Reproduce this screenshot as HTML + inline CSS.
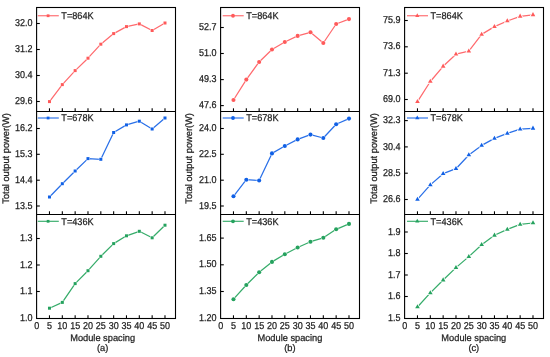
<!DOCTYPE html>
<html><head><meta charset="utf-8"><title>Total output power vs module spacing</title>
<style>
html,body{margin:0;padding:0;background:#fff;}
svg{display:block;}
.g{filter:blur(0.15px);}
.t{filter:blur(0.3px);}
text{text-rendering:geometricPrecision;font-family:"Liberation Sans", Arial, sans-serif;fill:#222;stroke:#222;stroke-width:0.25px;}
</style></head>
<body>
<svg width="550" height="357" viewBox="0 0 550 357">
<rect width="550" height="357" fill="#fff"/>
<g class="g">
<polyline points="49.48,101.60 62.32,84.60 75.15,70.60 87.98,58.20 100.82,44.20 113.65,33.60 126.48,26.60 139.32,23.90 152.15,30.50 164.99,23.00" fill="none" stroke="#ff6a6e" stroke-width="1.25" stroke-linejoin="round"/>
<rect x="47.98" y="100.10" width="3.00" height="3.00" fill="#fff" stroke="#fff" stroke-width="0.7" stroke-linejoin="round"/>
<rect x="47.98" y="100.10" width="3.00" height="3.00" fill="#ff5a5a"/>
<rect x="60.82" y="83.10" width="3.00" height="3.00" fill="#fff" stroke="#fff" stroke-width="0.7" stroke-linejoin="round"/>
<rect x="60.82" y="83.10" width="3.00" height="3.00" fill="#ff5a5a"/>
<rect x="73.65" y="69.10" width="3.00" height="3.00" fill="#fff" stroke="#fff" stroke-width="0.7" stroke-linejoin="round"/>
<rect x="73.65" y="69.10" width="3.00" height="3.00" fill="#ff5a5a"/>
<rect x="86.48" y="56.70" width="3.00" height="3.00" fill="#fff" stroke="#fff" stroke-width="0.7" stroke-linejoin="round"/>
<rect x="86.48" y="56.70" width="3.00" height="3.00" fill="#ff5a5a"/>
<rect x="99.32" y="42.70" width="3.00" height="3.00" fill="#fff" stroke="#fff" stroke-width="0.7" stroke-linejoin="round"/>
<rect x="99.32" y="42.70" width="3.00" height="3.00" fill="#ff5a5a"/>
<rect x="112.15" y="32.10" width="3.00" height="3.00" fill="#fff" stroke="#fff" stroke-width="0.7" stroke-linejoin="round"/>
<rect x="112.15" y="32.10" width="3.00" height="3.00" fill="#ff5a5a"/>
<rect x="124.98" y="25.10" width="3.00" height="3.00" fill="#fff" stroke="#fff" stroke-width="0.7" stroke-linejoin="round"/>
<rect x="124.98" y="25.10" width="3.00" height="3.00" fill="#ff5a5a"/>
<rect x="137.82" y="22.40" width="3.00" height="3.00" fill="#fff" stroke="#fff" stroke-width="0.7" stroke-linejoin="round"/>
<rect x="137.82" y="22.40" width="3.00" height="3.00" fill="#ff5a5a"/>
<rect x="150.65" y="29.00" width="3.00" height="3.00" fill="#fff" stroke="#fff" stroke-width="0.7" stroke-linejoin="round"/>
<rect x="150.65" y="29.00" width="3.00" height="3.00" fill="#ff5a5a"/>
<rect x="163.49" y="21.50" width="3.00" height="3.00" fill="#fff" stroke="#fff" stroke-width="0.7" stroke-linejoin="round"/>
<rect x="163.49" y="21.50" width="3.00" height="3.00" fill="#ff5a5a"/>
<line x1="37.80" y1="15.75" x2="58.80" y2="15.75" stroke="#ff6a6e" stroke-width="1.15"/>
<rect x="46.72" y="14.37" width="2.76" height="2.76" fill="#ff5a5a"/>
<line x1="49.48" y1="111.50" x2="49.48" y2="108.30" stroke="#000" stroke-width="1.1"/>
<line x1="62.32" y1="111.50" x2="62.32" y2="108.30" stroke="#000" stroke-width="1.1"/>
<line x1="75.15" y1="111.50" x2="75.15" y2="108.30" stroke="#000" stroke-width="1.1"/>
<line x1="87.98" y1="111.50" x2="87.98" y2="108.30" stroke="#000" stroke-width="1.1"/>
<line x1="100.82" y1="111.50" x2="100.82" y2="108.30" stroke="#000" stroke-width="1.1"/>
<line x1="113.65" y1="111.50" x2="113.65" y2="108.30" stroke="#000" stroke-width="1.1"/>
<line x1="126.48" y1="111.50" x2="126.48" y2="108.30" stroke="#000" stroke-width="1.1"/>
<line x1="139.32" y1="111.50" x2="139.32" y2="108.30" stroke="#000" stroke-width="1.1"/>
<line x1="152.15" y1="111.50" x2="152.15" y2="108.30" stroke="#000" stroke-width="1.1"/>
<line x1="164.99" y1="111.50" x2="164.99" y2="108.30" stroke="#000" stroke-width="1.1"/>
<line x1="36.60" y1="23.50" x2="39.80" y2="23.50" stroke="#000" stroke-width="1.1"/>
<line x1="36.60" y1="49.50" x2="39.80" y2="49.50" stroke="#000" stroke-width="1.1"/>
<line x1="36.60" y1="75.50" x2="39.80" y2="75.50" stroke="#000" stroke-width="1.1"/>
<line x1="36.60" y1="101.50" x2="39.80" y2="101.50" stroke="#000" stroke-width="1.1"/>
<polyline points="49.48,197.00 62.32,183.70 75.15,171.00 87.98,158.60 100.82,159.30 113.65,132.50 126.48,124.90 139.32,121.20 152.15,129.00 164.99,118.00" fill="none" stroke="#2a70e8" stroke-width="1.25" stroke-linejoin="round"/>
<rect x="47.98" y="195.50" width="3.00" height="3.00" fill="#fff" stroke="#fff" stroke-width="0.7" stroke-linejoin="round"/>
<rect x="47.98" y="195.50" width="3.00" height="3.00" fill="#1060e6"/>
<rect x="60.82" y="182.20" width="3.00" height="3.00" fill="#fff" stroke="#fff" stroke-width="0.7" stroke-linejoin="round"/>
<rect x="60.82" y="182.20" width="3.00" height="3.00" fill="#1060e6"/>
<rect x="73.65" y="169.50" width="3.00" height="3.00" fill="#fff" stroke="#fff" stroke-width="0.7" stroke-linejoin="round"/>
<rect x="73.65" y="169.50" width="3.00" height="3.00" fill="#1060e6"/>
<rect x="86.48" y="157.10" width="3.00" height="3.00" fill="#fff" stroke="#fff" stroke-width="0.7" stroke-linejoin="round"/>
<rect x="86.48" y="157.10" width="3.00" height="3.00" fill="#1060e6"/>
<rect x="99.32" y="157.80" width="3.00" height="3.00" fill="#fff" stroke="#fff" stroke-width="0.7" stroke-linejoin="round"/>
<rect x="99.32" y="157.80" width="3.00" height="3.00" fill="#1060e6"/>
<rect x="112.15" y="131.00" width="3.00" height="3.00" fill="#fff" stroke="#fff" stroke-width="0.7" stroke-linejoin="round"/>
<rect x="112.15" y="131.00" width="3.00" height="3.00" fill="#1060e6"/>
<rect x="124.98" y="123.40" width="3.00" height="3.00" fill="#fff" stroke="#fff" stroke-width="0.7" stroke-linejoin="round"/>
<rect x="124.98" y="123.40" width="3.00" height="3.00" fill="#1060e6"/>
<rect x="137.82" y="119.70" width="3.00" height="3.00" fill="#fff" stroke="#fff" stroke-width="0.7" stroke-linejoin="round"/>
<rect x="137.82" y="119.70" width="3.00" height="3.00" fill="#1060e6"/>
<rect x="150.65" y="127.50" width="3.00" height="3.00" fill="#fff" stroke="#fff" stroke-width="0.7" stroke-linejoin="round"/>
<rect x="150.65" y="127.50" width="3.00" height="3.00" fill="#1060e6"/>
<rect x="163.49" y="116.50" width="3.00" height="3.00" fill="#fff" stroke="#fff" stroke-width="0.7" stroke-linejoin="round"/>
<rect x="163.49" y="116.50" width="3.00" height="3.00" fill="#1060e6"/>
<line x1="37.80" y1="118.00" x2="58.80" y2="118.00" stroke="#2a70e8" stroke-width="1.15"/>
<rect x="46.72" y="116.62" width="2.76" height="2.76" fill="#1060e6"/>
<line x1="49.48" y1="214.50" x2="49.48" y2="211.30" stroke="#000" stroke-width="1.1"/>
<line x1="62.32" y1="214.50" x2="62.32" y2="211.30" stroke="#000" stroke-width="1.1"/>
<line x1="75.15" y1="214.50" x2="75.15" y2="211.30" stroke="#000" stroke-width="1.1"/>
<line x1="87.98" y1="214.50" x2="87.98" y2="211.30" stroke="#000" stroke-width="1.1"/>
<line x1="100.82" y1="214.50" x2="100.82" y2="211.30" stroke="#000" stroke-width="1.1"/>
<line x1="113.65" y1="214.50" x2="113.65" y2="211.30" stroke="#000" stroke-width="1.1"/>
<line x1="126.48" y1="214.50" x2="126.48" y2="211.30" stroke="#000" stroke-width="1.1"/>
<line x1="139.32" y1="214.50" x2="139.32" y2="211.30" stroke="#000" stroke-width="1.1"/>
<line x1="152.15" y1="214.50" x2="152.15" y2="211.30" stroke="#000" stroke-width="1.1"/>
<line x1="164.99" y1="214.50" x2="164.99" y2="211.30" stroke="#000" stroke-width="1.1"/>
<line x1="36.60" y1="128.50" x2="39.80" y2="128.50" stroke="#000" stroke-width="1.1"/>
<line x1="36.60" y1="154.30" x2="39.80" y2="154.30" stroke="#000" stroke-width="1.1"/>
<line x1="36.60" y1="180.20" x2="39.80" y2="180.20" stroke="#000" stroke-width="1.1"/>
<line x1="36.60" y1="206.00" x2="39.80" y2="206.00" stroke="#000" stroke-width="1.1"/>
<polyline points="49.48,308.20 62.32,302.40 75.15,283.60 87.98,270.70 100.82,256.30 113.65,243.60 126.48,235.80 139.32,231.30 152.15,237.80 164.99,225.20" fill="none" stroke="#36ac6a" stroke-width="1.25" stroke-linejoin="round"/>
<rect x="47.98" y="306.70" width="3.00" height="3.00" fill="#fff" stroke="#fff" stroke-width="0.7" stroke-linejoin="round"/>
<rect x="47.98" y="306.70" width="3.00" height="3.00" fill="#25a25e"/>
<rect x="60.82" y="300.90" width="3.00" height="3.00" fill="#fff" stroke="#fff" stroke-width="0.7" stroke-linejoin="round"/>
<rect x="60.82" y="300.90" width="3.00" height="3.00" fill="#25a25e"/>
<rect x="73.65" y="282.10" width="3.00" height="3.00" fill="#fff" stroke="#fff" stroke-width="0.7" stroke-linejoin="round"/>
<rect x="73.65" y="282.10" width="3.00" height="3.00" fill="#25a25e"/>
<rect x="86.48" y="269.20" width="3.00" height="3.00" fill="#fff" stroke="#fff" stroke-width="0.7" stroke-linejoin="round"/>
<rect x="86.48" y="269.20" width="3.00" height="3.00" fill="#25a25e"/>
<rect x="99.32" y="254.80" width="3.00" height="3.00" fill="#fff" stroke="#fff" stroke-width="0.7" stroke-linejoin="round"/>
<rect x="99.32" y="254.80" width="3.00" height="3.00" fill="#25a25e"/>
<rect x="112.15" y="242.10" width="3.00" height="3.00" fill="#fff" stroke="#fff" stroke-width="0.7" stroke-linejoin="round"/>
<rect x="112.15" y="242.10" width="3.00" height="3.00" fill="#25a25e"/>
<rect x="124.98" y="234.30" width="3.00" height="3.00" fill="#fff" stroke="#fff" stroke-width="0.7" stroke-linejoin="round"/>
<rect x="124.98" y="234.30" width="3.00" height="3.00" fill="#25a25e"/>
<rect x="137.82" y="229.80" width="3.00" height="3.00" fill="#fff" stroke="#fff" stroke-width="0.7" stroke-linejoin="round"/>
<rect x="137.82" y="229.80" width="3.00" height="3.00" fill="#25a25e"/>
<rect x="150.65" y="236.30" width="3.00" height="3.00" fill="#fff" stroke="#fff" stroke-width="0.7" stroke-linejoin="round"/>
<rect x="150.65" y="236.30" width="3.00" height="3.00" fill="#25a25e"/>
<rect x="163.49" y="223.70" width="3.00" height="3.00" fill="#fff" stroke="#fff" stroke-width="0.7" stroke-linejoin="round"/>
<rect x="163.49" y="223.70" width="3.00" height="3.00" fill="#25a25e"/>
<line x1="37.80" y1="221.30" x2="58.80" y2="221.30" stroke="#36ac6a" stroke-width="1.15"/>
<rect x="46.72" y="219.92" width="2.76" height="2.76" fill="#25a25e"/>
<line x1="49.48" y1="318.50" x2="49.48" y2="315.30" stroke="#000" stroke-width="1.1"/>
<line x1="62.32" y1="318.50" x2="62.32" y2="315.30" stroke="#000" stroke-width="1.1"/>
<line x1="75.15" y1="318.50" x2="75.15" y2="315.30" stroke="#000" stroke-width="1.1"/>
<line x1="87.98" y1="318.50" x2="87.98" y2="315.30" stroke="#000" stroke-width="1.1"/>
<line x1="100.82" y1="318.50" x2="100.82" y2="315.30" stroke="#000" stroke-width="1.1"/>
<line x1="113.65" y1="318.50" x2="113.65" y2="315.30" stroke="#000" stroke-width="1.1"/>
<line x1="126.48" y1="318.50" x2="126.48" y2="315.30" stroke="#000" stroke-width="1.1"/>
<line x1="139.32" y1="318.50" x2="139.32" y2="315.30" stroke="#000" stroke-width="1.1"/>
<line x1="152.15" y1="318.50" x2="152.15" y2="315.30" stroke="#000" stroke-width="1.1"/>
<line x1="164.99" y1="318.50" x2="164.99" y2="315.30" stroke="#000" stroke-width="1.1"/>
<line x1="36.60" y1="238.50" x2="39.80" y2="238.50" stroke="#000" stroke-width="1.1"/>
<line x1="36.60" y1="265.00" x2="39.80" y2="265.00" stroke="#000" stroke-width="1.1"/>
<line x1="36.60" y1="291.50" x2="39.80" y2="291.50" stroke="#000" stroke-width="1.1"/>
<rect x="36.60" y="7.50" width="138.90" height="311.00" fill="none" stroke="#000" stroke-width="1.1"/>
<line x1="36.60" y1="111.50" x2="175.50" y2="111.50" stroke="#000" stroke-width="1.1"/>
<line x1="36.60" y1="214.50" x2="175.50" y2="214.50" stroke="#000" stroke-width="1.1"/>
<polyline points="233.48,100.00 246.32,79.60 259.15,61.95 271.98,49.50 284.82,42.00 297.65,35.90 310.48,32.30 323.32,43.00 336.15,24.00 348.99,19.10" fill="none" stroke="#ff6a6e" stroke-width="1.25" stroke-linejoin="round"/>
<circle cx="233.48" cy="100.00" r="2.05" fill="#fff" stroke="#fff" stroke-width="0.7" stroke-linejoin="round"/>
<circle cx="233.48" cy="100.00" r="2.05" fill="#ff5a5a"/>
<circle cx="246.32" cy="79.60" r="2.05" fill="#fff" stroke="#fff" stroke-width="0.7" stroke-linejoin="round"/>
<circle cx="246.32" cy="79.60" r="2.05" fill="#ff5a5a"/>
<circle cx="259.15" cy="61.95" r="2.05" fill="#fff" stroke="#fff" stroke-width="0.7" stroke-linejoin="round"/>
<circle cx="259.15" cy="61.95" r="2.05" fill="#ff5a5a"/>
<circle cx="271.98" cy="49.50" r="2.05" fill="#fff" stroke="#fff" stroke-width="0.7" stroke-linejoin="round"/>
<circle cx="271.98" cy="49.50" r="2.05" fill="#ff5a5a"/>
<circle cx="284.82" cy="42.00" r="2.05" fill="#fff" stroke="#fff" stroke-width="0.7" stroke-linejoin="round"/>
<circle cx="284.82" cy="42.00" r="2.05" fill="#ff5a5a"/>
<circle cx="297.65" cy="35.90" r="2.05" fill="#fff" stroke="#fff" stroke-width="0.7" stroke-linejoin="round"/>
<circle cx="297.65" cy="35.90" r="2.05" fill="#ff5a5a"/>
<circle cx="310.48" cy="32.30" r="2.05" fill="#fff" stroke="#fff" stroke-width="0.7" stroke-linejoin="round"/>
<circle cx="310.48" cy="32.30" r="2.05" fill="#ff5a5a"/>
<circle cx="323.32" cy="43.00" r="2.05" fill="#fff" stroke="#fff" stroke-width="0.7" stroke-linejoin="round"/>
<circle cx="323.32" cy="43.00" r="2.05" fill="#ff5a5a"/>
<circle cx="336.15" cy="24.00" r="2.05" fill="#fff" stroke="#fff" stroke-width="0.7" stroke-linejoin="round"/>
<circle cx="336.15" cy="24.00" r="2.05" fill="#ff5a5a"/>
<circle cx="348.99" cy="19.10" r="2.05" fill="#fff" stroke="#fff" stroke-width="0.7" stroke-linejoin="round"/>
<circle cx="348.99" cy="19.10" r="2.05" fill="#ff5a5a"/>
<line x1="222.70" y1="15.75" x2="243.70" y2="15.75" stroke="#ff6a6e" stroke-width="1.15"/>
<circle cx="233.00" cy="15.75" r="1.89" fill="#ff5a5a"/>
<line x1="233.48" y1="111.50" x2="233.48" y2="108.30" stroke="#000" stroke-width="1.1"/>
<line x1="246.32" y1="111.50" x2="246.32" y2="108.30" stroke="#000" stroke-width="1.1"/>
<line x1="259.15" y1="111.50" x2="259.15" y2="108.30" stroke="#000" stroke-width="1.1"/>
<line x1="271.98" y1="111.50" x2="271.98" y2="108.30" stroke="#000" stroke-width="1.1"/>
<line x1="284.82" y1="111.50" x2="284.82" y2="108.30" stroke="#000" stroke-width="1.1"/>
<line x1="297.65" y1="111.50" x2="297.65" y2="108.30" stroke="#000" stroke-width="1.1"/>
<line x1="310.48" y1="111.50" x2="310.48" y2="108.30" stroke="#000" stroke-width="1.1"/>
<line x1="323.32" y1="111.50" x2="323.32" y2="108.30" stroke="#000" stroke-width="1.1"/>
<line x1="336.15" y1="111.50" x2="336.15" y2="108.30" stroke="#000" stroke-width="1.1"/>
<line x1="348.99" y1="111.50" x2="348.99" y2="108.30" stroke="#000" stroke-width="1.1"/>
<line x1="220.60" y1="27.50" x2="223.80" y2="27.50" stroke="#000" stroke-width="1.1"/>
<line x1="220.60" y1="53.50" x2="223.80" y2="53.50" stroke="#000" stroke-width="1.1"/>
<line x1="220.60" y1="79.60" x2="223.80" y2="79.60" stroke="#000" stroke-width="1.1"/>
<line x1="220.60" y1="105.60" x2="223.80" y2="105.60" stroke="#000" stroke-width="1.1"/>
<polyline points="233.48,196.30 246.32,179.70 259.15,180.50 271.98,153.40 284.82,146.00 297.65,139.40 310.48,134.60 323.32,138.00 336.15,124.20 348.99,118.60" fill="none" stroke="#2a70e8" stroke-width="1.25" stroke-linejoin="round"/>
<circle cx="233.48" cy="196.30" r="2.05" fill="#fff" stroke="#fff" stroke-width="0.7" stroke-linejoin="round"/>
<circle cx="233.48" cy="196.30" r="2.05" fill="#1060e6"/>
<circle cx="246.32" cy="179.70" r="2.05" fill="#fff" stroke="#fff" stroke-width="0.7" stroke-linejoin="round"/>
<circle cx="246.32" cy="179.70" r="2.05" fill="#1060e6"/>
<circle cx="259.15" cy="180.50" r="2.05" fill="#fff" stroke="#fff" stroke-width="0.7" stroke-linejoin="round"/>
<circle cx="259.15" cy="180.50" r="2.05" fill="#1060e6"/>
<circle cx="271.98" cy="153.40" r="2.05" fill="#fff" stroke="#fff" stroke-width="0.7" stroke-linejoin="round"/>
<circle cx="271.98" cy="153.40" r="2.05" fill="#1060e6"/>
<circle cx="284.82" cy="146.00" r="2.05" fill="#fff" stroke="#fff" stroke-width="0.7" stroke-linejoin="round"/>
<circle cx="284.82" cy="146.00" r="2.05" fill="#1060e6"/>
<circle cx="297.65" cy="139.40" r="2.05" fill="#fff" stroke="#fff" stroke-width="0.7" stroke-linejoin="round"/>
<circle cx="297.65" cy="139.40" r="2.05" fill="#1060e6"/>
<circle cx="310.48" cy="134.60" r="2.05" fill="#fff" stroke="#fff" stroke-width="0.7" stroke-linejoin="round"/>
<circle cx="310.48" cy="134.60" r="2.05" fill="#1060e6"/>
<circle cx="323.32" cy="138.00" r="2.05" fill="#fff" stroke="#fff" stroke-width="0.7" stroke-linejoin="round"/>
<circle cx="323.32" cy="138.00" r="2.05" fill="#1060e6"/>
<circle cx="336.15" cy="124.20" r="2.05" fill="#fff" stroke="#fff" stroke-width="0.7" stroke-linejoin="round"/>
<circle cx="336.15" cy="124.20" r="2.05" fill="#1060e6"/>
<circle cx="348.99" cy="118.60" r="2.05" fill="#fff" stroke="#fff" stroke-width="0.7" stroke-linejoin="round"/>
<circle cx="348.99" cy="118.60" r="2.05" fill="#1060e6"/>
<line x1="222.70" y1="118.00" x2="243.70" y2="118.00" stroke="#2a70e8" stroke-width="1.15"/>
<circle cx="233.00" cy="118.00" r="1.89" fill="#1060e6"/>
<line x1="233.48" y1="214.50" x2="233.48" y2="211.30" stroke="#000" stroke-width="1.1"/>
<line x1="246.32" y1="214.50" x2="246.32" y2="211.30" stroke="#000" stroke-width="1.1"/>
<line x1="259.15" y1="214.50" x2="259.15" y2="211.30" stroke="#000" stroke-width="1.1"/>
<line x1="271.98" y1="214.50" x2="271.98" y2="211.30" stroke="#000" stroke-width="1.1"/>
<line x1="284.82" y1="214.50" x2="284.82" y2="211.30" stroke="#000" stroke-width="1.1"/>
<line x1="297.65" y1="214.50" x2="297.65" y2="211.30" stroke="#000" stroke-width="1.1"/>
<line x1="310.48" y1="214.50" x2="310.48" y2="211.30" stroke="#000" stroke-width="1.1"/>
<line x1="323.32" y1="214.50" x2="323.32" y2="211.30" stroke="#000" stroke-width="1.1"/>
<line x1="336.15" y1="214.50" x2="336.15" y2="211.30" stroke="#000" stroke-width="1.1"/>
<line x1="348.99" y1="214.50" x2="348.99" y2="211.30" stroke="#000" stroke-width="1.1"/>
<line x1="220.60" y1="128.50" x2="223.80" y2="128.50" stroke="#000" stroke-width="1.1"/>
<line x1="220.60" y1="154.30" x2="223.80" y2="154.30" stroke="#000" stroke-width="1.1"/>
<line x1="220.60" y1="180.20" x2="223.80" y2="180.20" stroke="#000" stroke-width="1.1"/>
<line x1="220.60" y1="206.00" x2="223.80" y2="206.00" stroke="#000" stroke-width="1.1"/>
<polyline points="233.48,299.20 246.32,285.00 259.15,272.20 271.98,261.90 284.82,254.20 297.65,247.50 310.48,241.70 323.32,237.80 336.15,229.30 348.99,223.90" fill="none" stroke="#36ac6a" stroke-width="1.25" stroke-linejoin="round"/>
<circle cx="233.48" cy="299.20" r="2.05" fill="#fff" stroke="#fff" stroke-width="0.7" stroke-linejoin="round"/>
<circle cx="233.48" cy="299.20" r="2.05" fill="#25a25e"/>
<circle cx="246.32" cy="285.00" r="2.05" fill="#fff" stroke="#fff" stroke-width="0.7" stroke-linejoin="round"/>
<circle cx="246.32" cy="285.00" r="2.05" fill="#25a25e"/>
<circle cx="259.15" cy="272.20" r="2.05" fill="#fff" stroke="#fff" stroke-width="0.7" stroke-linejoin="round"/>
<circle cx="259.15" cy="272.20" r="2.05" fill="#25a25e"/>
<circle cx="271.98" cy="261.90" r="2.05" fill="#fff" stroke="#fff" stroke-width="0.7" stroke-linejoin="round"/>
<circle cx="271.98" cy="261.90" r="2.05" fill="#25a25e"/>
<circle cx="284.82" cy="254.20" r="2.05" fill="#fff" stroke="#fff" stroke-width="0.7" stroke-linejoin="round"/>
<circle cx="284.82" cy="254.20" r="2.05" fill="#25a25e"/>
<circle cx="297.65" cy="247.50" r="2.05" fill="#fff" stroke="#fff" stroke-width="0.7" stroke-linejoin="round"/>
<circle cx="297.65" cy="247.50" r="2.05" fill="#25a25e"/>
<circle cx="310.48" cy="241.70" r="2.05" fill="#fff" stroke="#fff" stroke-width="0.7" stroke-linejoin="round"/>
<circle cx="310.48" cy="241.70" r="2.05" fill="#25a25e"/>
<circle cx="323.32" cy="237.80" r="2.05" fill="#fff" stroke="#fff" stroke-width="0.7" stroke-linejoin="round"/>
<circle cx="323.32" cy="237.80" r="2.05" fill="#25a25e"/>
<circle cx="336.15" cy="229.30" r="2.05" fill="#fff" stroke="#fff" stroke-width="0.7" stroke-linejoin="round"/>
<circle cx="336.15" cy="229.30" r="2.05" fill="#25a25e"/>
<circle cx="348.99" cy="223.90" r="2.05" fill="#fff" stroke="#fff" stroke-width="0.7" stroke-linejoin="round"/>
<circle cx="348.99" cy="223.90" r="2.05" fill="#25a25e"/>
<line x1="222.70" y1="221.30" x2="243.70" y2="221.30" stroke="#36ac6a" stroke-width="1.15"/>
<circle cx="233.00" cy="221.30" r="1.89" fill="#25a25e"/>
<line x1="233.48" y1="318.50" x2="233.48" y2="315.30" stroke="#000" stroke-width="1.1"/>
<line x1="246.32" y1="318.50" x2="246.32" y2="315.30" stroke="#000" stroke-width="1.1"/>
<line x1="259.15" y1="318.50" x2="259.15" y2="315.30" stroke="#000" stroke-width="1.1"/>
<line x1="271.98" y1="318.50" x2="271.98" y2="315.30" stroke="#000" stroke-width="1.1"/>
<line x1="284.82" y1="318.50" x2="284.82" y2="315.30" stroke="#000" stroke-width="1.1"/>
<line x1="297.65" y1="318.50" x2="297.65" y2="315.30" stroke="#000" stroke-width="1.1"/>
<line x1="310.48" y1="318.50" x2="310.48" y2="315.30" stroke="#000" stroke-width="1.1"/>
<line x1="323.32" y1="318.50" x2="323.32" y2="315.30" stroke="#000" stroke-width="1.1"/>
<line x1="336.15" y1="318.50" x2="336.15" y2="315.30" stroke="#000" stroke-width="1.1"/>
<line x1="348.99" y1="318.50" x2="348.99" y2="315.30" stroke="#000" stroke-width="1.1"/>
<line x1="220.60" y1="238.10" x2="223.80" y2="238.10" stroke="#000" stroke-width="1.1"/>
<line x1="220.60" y1="264.80" x2="223.80" y2="264.80" stroke="#000" stroke-width="1.1"/>
<line x1="220.60" y1="291.50" x2="223.80" y2="291.50" stroke="#000" stroke-width="1.1"/>
<rect x="220.60" y="7.50" width="138.90" height="311.00" fill="none" stroke="#000" stroke-width="1.1"/>
<line x1="220.60" y1="111.50" x2="359.50" y2="111.50" stroke="#000" stroke-width="1.1"/>
<line x1="220.60" y1="214.50" x2="359.50" y2="214.50" stroke="#000" stroke-width="1.1"/>
<polyline points="417.48,101.60 430.32,81.50 443.15,66.30 455.98,54.20 468.82,51.10 481.65,34.40 494.48,26.60 507.32,21.00 520.15,16.30 532.99,14.80" fill="none" stroke="#ff6a6e" stroke-width="1.25" stroke-linejoin="round"/>
<polygon points="417.48,98.90 419.78,102.95 415.18,102.95" fill="#fff" stroke="#fff" stroke-width="1.6" stroke-linejoin="round"/>
<polygon points="417.48,98.90 419.78,102.95 415.18,102.95" fill="#ff5a5a"/>
<polygon points="430.32,78.80 432.62,82.85 428.02,82.85" fill="#fff" stroke="#fff" stroke-width="1.6" stroke-linejoin="round"/>
<polygon points="430.32,78.80 432.62,82.85 428.02,82.85" fill="#ff5a5a"/>
<polygon points="443.15,63.60 445.45,67.65 440.85,67.65" fill="#fff" stroke="#fff" stroke-width="1.6" stroke-linejoin="round"/>
<polygon points="443.15,63.60 445.45,67.65 440.85,67.65" fill="#ff5a5a"/>
<polygon points="455.98,51.50 458.28,55.55 453.68,55.55" fill="#fff" stroke="#fff" stroke-width="1.6" stroke-linejoin="round"/>
<polygon points="455.98,51.50 458.28,55.55 453.68,55.55" fill="#ff5a5a"/>
<polygon points="468.82,48.40 471.12,52.45 466.52,52.45" fill="#fff" stroke="#fff" stroke-width="1.6" stroke-linejoin="round"/>
<polygon points="468.82,48.40 471.12,52.45 466.52,52.45" fill="#ff5a5a"/>
<polygon points="481.65,31.70 483.95,35.75 479.35,35.75" fill="#fff" stroke="#fff" stroke-width="1.6" stroke-linejoin="round"/>
<polygon points="481.65,31.70 483.95,35.75 479.35,35.75" fill="#ff5a5a"/>
<polygon points="494.48,23.90 496.78,27.95 492.18,27.95" fill="#fff" stroke="#fff" stroke-width="1.6" stroke-linejoin="round"/>
<polygon points="494.48,23.90 496.78,27.95 492.18,27.95" fill="#ff5a5a"/>
<polygon points="507.32,18.30 509.62,22.35 505.02,22.35" fill="#fff" stroke="#fff" stroke-width="1.6" stroke-linejoin="round"/>
<polygon points="507.32,18.30 509.62,22.35 505.02,22.35" fill="#ff5a5a"/>
<polygon points="520.15,13.60 522.45,17.65 517.85,17.65" fill="#fff" stroke="#fff" stroke-width="1.6" stroke-linejoin="round"/>
<polygon points="520.15,13.60 522.45,17.65 517.85,17.65" fill="#ff5a5a"/>
<polygon points="532.99,12.10 535.28,16.15 530.69,16.15" fill="#fff" stroke="#fff" stroke-width="1.6" stroke-linejoin="round"/>
<polygon points="532.99,12.10 535.28,16.15 530.69,16.15" fill="#ff5a5a"/>
<line x1="407.00" y1="15.75" x2="428.00" y2="15.75" stroke="#ff6a6e" stroke-width="1.15"/>
<polygon points="417.30,13.27 419.42,16.99 415.18,16.99" fill="#ff5a5a"/>
<line x1="417.48" y1="111.50" x2="417.48" y2="108.30" stroke="#000" stroke-width="1.1"/>
<line x1="430.32" y1="111.50" x2="430.32" y2="108.30" stroke="#000" stroke-width="1.1"/>
<line x1="443.15" y1="111.50" x2="443.15" y2="108.30" stroke="#000" stroke-width="1.1"/>
<line x1="455.98" y1="111.50" x2="455.98" y2="108.30" stroke="#000" stroke-width="1.1"/>
<line x1="468.82" y1="111.50" x2="468.82" y2="108.30" stroke="#000" stroke-width="1.1"/>
<line x1="481.65" y1="111.50" x2="481.65" y2="108.30" stroke="#000" stroke-width="1.1"/>
<line x1="494.48" y1="111.50" x2="494.48" y2="108.30" stroke="#000" stroke-width="1.1"/>
<line x1="507.32" y1="111.50" x2="507.32" y2="108.30" stroke="#000" stroke-width="1.1"/>
<line x1="520.15" y1="111.50" x2="520.15" y2="108.30" stroke="#000" stroke-width="1.1"/>
<line x1="532.99" y1="111.50" x2="532.99" y2="108.30" stroke="#000" stroke-width="1.1"/>
<line x1="404.60" y1="20.50" x2="407.80" y2="20.50" stroke="#000" stroke-width="1.1"/>
<line x1="404.60" y1="46.80" x2="407.80" y2="46.80" stroke="#000" stroke-width="1.1"/>
<line x1="404.60" y1="73.20" x2="407.80" y2="73.20" stroke="#000" stroke-width="1.1"/>
<line x1="404.60" y1="99.50" x2="407.80" y2="99.50" stroke="#000" stroke-width="1.1"/>
<polyline points="417.48,199.40 430.32,184.90 443.15,173.70 455.98,168.70 468.82,155.00 481.65,145.40 494.48,138.40 507.32,133.40 520.15,129.20 532.99,128.30" fill="none" stroke="#2a70e8" stroke-width="1.25" stroke-linejoin="round"/>
<polygon points="417.48,196.70 419.78,200.75 415.18,200.75" fill="#fff" stroke="#fff" stroke-width="1.6" stroke-linejoin="round"/>
<polygon points="417.48,196.70 419.78,200.75 415.18,200.75" fill="#1060e6"/>
<polygon points="430.32,182.20 432.62,186.25 428.02,186.25" fill="#fff" stroke="#fff" stroke-width="1.6" stroke-linejoin="round"/>
<polygon points="430.32,182.20 432.62,186.25 428.02,186.25" fill="#1060e6"/>
<polygon points="443.15,171.00 445.45,175.05 440.85,175.05" fill="#fff" stroke="#fff" stroke-width="1.6" stroke-linejoin="round"/>
<polygon points="443.15,171.00 445.45,175.05 440.85,175.05" fill="#1060e6"/>
<polygon points="455.98,166.00 458.28,170.05 453.68,170.05" fill="#fff" stroke="#fff" stroke-width="1.6" stroke-linejoin="round"/>
<polygon points="455.98,166.00 458.28,170.05 453.68,170.05" fill="#1060e6"/>
<polygon points="468.82,152.30 471.12,156.35 466.52,156.35" fill="#fff" stroke="#fff" stroke-width="1.6" stroke-linejoin="round"/>
<polygon points="468.82,152.30 471.12,156.35 466.52,156.35" fill="#1060e6"/>
<polygon points="481.65,142.70 483.95,146.75 479.35,146.75" fill="#fff" stroke="#fff" stroke-width="1.6" stroke-linejoin="round"/>
<polygon points="481.65,142.70 483.95,146.75 479.35,146.75" fill="#1060e6"/>
<polygon points="494.48,135.70 496.78,139.75 492.18,139.75" fill="#fff" stroke="#fff" stroke-width="1.6" stroke-linejoin="round"/>
<polygon points="494.48,135.70 496.78,139.75 492.18,139.75" fill="#1060e6"/>
<polygon points="507.32,130.70 509.62,134.75 505.02,134.75" fill="#fff" stroke="#fff" stroke-width="1.6" stroke-linejoin="round"/>
<polygon points="507.32,130.70 509.62,134.75 505.02,134.75" fill="#1060e6"/>
<polygon points="520.15,126.50 522.45,130.55 517.85,130.55" fill="#fff" stroke="#fff" stroke-width="1.6" stroke-linejoin="round"/>
<polygon points="520.15,126.50 522.45,130.55 517.85,130.55" fill="#1060e6"/>
<polygon points="532.99,125.60 535.28,129.65 530.69,129.65" fill="#fff" stroke="#fff" stroke-width="1.6" stroke-linejoin="round"/>
<polygon points="532.99,125.60 535.28,129.65 530.69,129.65" fill="#1060e6"/>
<line x1="407.00" y1="118.00" x2="428.00" y2="118.00" stroke="#2a70e8" stroke-width="1.15"/>
<polygon points="417.30,115.52 419.42,119.24 415.18,119.24" fill="#1060e6"/>
<line x1="417.48" y1="214.50" x2="417.48" y2="211.30" stroke="#000" stroke-width="1.1"/>
<line x1="430.32" y1="214.50" x2="430.32" y2="211.30" stroke="#000" stroke-width="1.1"/>
<line x1="443.15" y1="214.50" x2="443.15" y2="211.30" stroke="#000" stroke-width="1.1"/>
<line x1="455.98" y1="214.50" x2="455.98" y2="211.30" stroke="#000" stroke-width="1.1"/>
<line x1="468.82" y1="214.50" x2="468.82" y2="211.30" stroke="#000" stroke-width="1.1"/>
<line x1="481.65" y1="214.50" x2="481.65" y2="211.30" stroke="#000" stroke-width="1.1"/>
<line x1="494.48" y1="214.50" x2="494.48" y2="211.30" stroke="#000" stroke-width="1.1"/>
<line x1="507.32" y1="214.50" x2="507.32" y2="211.30" stroke="#000" stroke-width="1.1"/>
<line x1="520.15" y1="214.50" x2="520.15" y2="211.30" stroke="#000" stroke-width="1.1"/>
<line x1="532.99" y1="214.50" x2="532.99" y2="211.30" stroke="#000" stroke-width="1.1"/>
<line x1="404.60" y1="120.60" x2="407.80" y2="120.60" stroke="#000" stroke-width="1.1"/>
<line x1="404.60" y1="146.90" x2="407.80" y2="146.90" stroke="#000" stroke-width="1.1"/>
<line x1="404.60" y1="173.20" x2="407.80" y2="173.20" stroke="#000" stroke-width="1.1"/>
<line x1="404.60" y1="199.50" x2="407.80" y2="199.50" stroke="#000" stroke-width="1.1"/>
<polyline points="417.48,307.00 430.32,292.85 443.15,280.05 455.98,267.65 468.82,256.60 481.65,244.70 494.48,235.30 507.32,229.40 520.15,224.40 532.99,223.00" fill="none" stroke="#36ac6a" stroke-width="1.25" stroke-linejoin="round"/>
<polygon points="417.48,304.30 419.78,308.35 415.18,308.35" fill="#fff" stroke="#fff" stroke-width="1.6" stroke-linejoin="round"/>
<polygon points="417.48,304.30 419.78,308.35 415.18,308.35" fill="#25a25e"/>
<polygon points="430.32,290.15 432.62,294.20 428.02,294.20" fill="#fff" stroke="#fff" stroke-width="1.6" stroke-linejoin="round"/>
<polygon points="430.32,290.15 432.62,294.20 428.02,294.20" fill="#25a25e"/>
<polygon points="443.15,277.35 445.45,281.40 440.85,281.40" fill="#fff" stroke="#fff" stroke-width="1.6" stroke-linejoin="round"/>
<polygon points="443.15,277.35 445.45,281.40 440.85,281.40" fill="#25a25e"/>
<polygon points="455.98,264.95 458.28,269.00 453.68,269.00" fill="#fff" stroke="#fff" stroke-width="1.6" stroke-linejoin="round"/>
<polygon points="455.98,264.95 458.28,269.00 453.68,269.00" fill="#25a25e"/>
<polygon points="468.82,253.90 471.12,257.95 466.52,257.95" fill="#fff" stroke="#fff" stroke-width="1.6" stroke-linejoin="round"/>
<polygon points="468.82,253.90 471.12,257.95 466.52,257.95" fill="#25a25e"/>
<polygon points="481.65,242.00 483.95,246.05 479.35,246.05" fill="#fff" stroke="#fff" stroke-width="1.6" stroke-linejoin="round"/>
<polygon points="481.65,242.00 483.95,246.05 479.35,246.05" fill="#25a25e"/>
<polygon points="494.48,232.60 496.78,236.65 492.18,236.65" fill="#fff" stroke="#fff" stroke-width="1.6" stroke-linejoin="round"/>
<polygon points="494.48,232.60 496.78,236.65 492.18,236.65" fill="#25a25e"/>
<polygon points="507.32,226.70 509.62,230.75 505.02,230.75" fill="#fff" stroke="#fff" stroke-width="1.6" stroke-linejoin="round"/>
<polygon points="507.32,226.70 509.62,230.75 505.02,230.75" fill="#25a25e"/>
<polygon points="520.15,221.70 522.45,225.75 517.85,225.75" fill="#fff" stroke="#fff" stroke-width="1.6" stroke-linejoin="round"/>
<polygon points="520.15,221.70 522.45,225.75 517.85,225.75" fill="#25a25e"/>
<polygon points="532.99,220.30 535.28,224.35 530.69,224.35" fill="#fff" stroke="#fff" stroke-width="1.6" stroke-linejoin="round"/>
<polygon points="532.99,220.30 535.28,224.35 530.69,224.35" fill="#25a25e"/>
<line x1="407.00" y1="221.30" x2="428.00" y2="221.30" stroke="#36ac6a" stroke-width="1.15"/>
<polygon points="417.30,218.82 419.42,222.54 415.18,222.54" fill="#25a25e"/>
<line x1="417.48" y1="318.50" x2="417.48" y2="315.30" stroke="#000" stroke-width="1.1"/>
<line x1="430.32" y1="318.50" x2="430.32" y2="315.30" stroke="#000" stroke-width="1.1"/>
<line x1="443.15" y1="318.50" x2="443.15" y2="315.30" stroke="#000" stroke-width="1.1"/>
<line x1="455.98" y1="318.50" x2="455.98" y2="315.30" stroke="#000" stroke-width="1.1"/>
<line x1="468.82" y1="318.50" x2="468.82" y2="315.30" stroke="#000" stroke-width="1.1"/>
<line x1="481.65" y1="318.50" x2="481.65" y2="315.30" stroke="#000" stroke-width="1.1"/>
<line x1="494.48" y1="318.50" x2="494.48" y2="315.30" stroke="#000" stroke-width="1.1"/>
<line x1="507.32" y1="318.50" x2="507.32" y2="315.30" stroke="#000" stroke-width="1.1"/>
<line x1="520.15" y1="318.50" x2="520.15" y2="315.30" stroke="#000" stroke-width="1.1"/>
<line x1="532.99" y1="318.50" x2="532.99" y2="315.30" stroke="#000" stroke-width="1.1"/>
<line x1="404.60" y1="232.00" x2="407.80" y2="232.00" stroke="#000" stroke-width="1.1"/>
<line x1="404.60" y1="253.50" x2="407.80" y2="253.50" stroke="#000" stroke-width="1.1"/>
<line x1="404.60" y1="275.00" x2="407.80" y2="275.00" stroke="#000" stroke-width="1.1"/>
<line x1="404.60" y1="296.50" x2="407.80" y2="296.50" stroke="#000" stroke-width="1.1"/>
<rect x="404.60" y="7.50" width="138.90" height="311.00" fill="none" stroke="#000" stroke-width="1.1"/>
<line x1="404.60" y1="111.50" x2="543.50" y2="111.50" stroke="#000" stroke-width="1.1"/>
<line x1="404.60" y1="214.50" x2="543.50" y2="214.50" stroke="#000" stroke-width="1.1"/>
</g>
<g class="t">
<text transform="translate(61.30,19.15) scale(0.935,1)" font-size="9.8">T=864K</text>
<text transform="translate(32.40,26.10) scale(0.9,1)" font-size="10.0" text-anchor="end">32.0</text>
<text transform="translate(32.40,52.10) scale(0.9,1)" font-size="10.0" text-anchor="end">31.2</text>
<text transform="translate(32.40,78.10) scale(0.9,1)" font-size="10.0" text-anchor="end">30.4</text>
<text transform="translate(32.40,104.10) scale(0.9,1)" font-size="10.0" text-anchor="end">29.6</text>
<text transform="translate(61.30,121.40) scale(0.935,1)" font-size="9.8">T=678K</text>
<text transform="translate(32.40,131.10) scale(0.9,1)" font-size="10.0" text-anchor="end">16.2</text>
<text transform="translate(32.40,156.90) scale(0.9,1)" font-size="10.0" text-anchor="end">15.3</text>
<text transform="translate(32.40,182.80) scale(0.9,1)" font-size="10.0" text-anchor="end">14.4</text>
<text transform="translate(32.40,208.60) scale(0.9,1)" font-size="10.0" text-anchor="end">13.5</text>
<text transform="translate(61.30,224.70) scale(0.935,1)" font-size="9.8">T=436K</text>
<text transform="translate(32.40,241.10) scale(0.9,1)" font-size="10.0" text-anchor="end">1.3</text>
<text transform="translate(32.40,267.60) scale(0.9,1)" font-size="10.0" text-anchor="end">1.2</text>
<text transform="translate(32.40,294.10) scale(0.9,1)" font-size="10.0" text-anchor="end">1.1</text>
<text transform="translate(32.40,320.60) scale(0.9,1)" font-size="10.0" text-anchor="end">1.0</text>
<text transform="translate(36.65,329.30) scale(0.9,1)" font-size="10.0" text-anchor="middle">0</text>
<text transform="translate(49.48,329.30) scale(0.9,1)" font-size="10.0" text-anchor="middle">5</text>
<text transform="translate(62.32,329.30) scale(0.9,1)" font-size="10.0" text-anchor="middle">10</text>
<text transform="translate(75.15,329.30) scale(0.9,1)" font-size="10.0" text-anchor="middle">15</text>
<text transform="translate(87.98,329.30) scale(0.9,1)" font-size="10.0" text-anchor="middle">20</text>
<text transform="translate(100.82,329.30) scale(0.9,1)" font-size="10.0" text-anchor="middle">25</text>
<text transform="translate(113.65,329.30) scale(0.9,1)" font-size="10.0" text-anchor="middle">30</text>
<text transform="translate(126.48,329.30) scale(0.9,1)" font-size="10.0" text-anchor="middle">35</text>
<text transform="translate(139.32,329.30) scale(0.9,1)" font-size="10.0" text-anchor="middle">40</text>
<text transform="translate(152.15,329.30) scale(0.9,1)" font-size="10.0" text-anchor="middle">45</text>
<text transform="translate(164.99,329.30) scale(0.9,1)" font-size="10.0" text-anchor="middle">50</text>
<text transform="translate(102.60,340.80) scale(0.975,1)" font-size="9.5" text-anchor="middle">Module spacing</text>
<text transform="translate(102.60,350.90) scale(0.99,1)" font-size="9.4" text-anchor="middle">(a)</text>
<text transform="translate(9.00,158.40) rotate(-90) scale(0.975,1)" font-size="9.5" text-anchor="middle">Total output power(W)</text>
<text transform="translate(246.20,19.15) scale(0.935,1)" font-size="9.8">T=864K</text>
<text transform="translate(216.40,30.10) scale(0.9,1)" font-size="10.0" text-anchor="end">52.7</text>
<text transform="translate(216.40,56.10) scale(0.9,1)" font-size="10.0" text-anchor="end">51.0</text>
<text transform="translate(216.40,82.20) scale(0.9,1)" font-size="10.0" text-anchor="end">49.3</text>
<text transform="translate(216.40,108.20) scale(0.9,1)" font-size="10.0" text-anchor="end">47.6</text>
<text transform="translate(246.20,121.40) scale(0.935,1)" font-size="9.8">T=678K</text>
<text transform="translate(216.40,131.10) scale(0.9,1)" font-size="10.0" text-anchor="end">24.0</text>
<text transform="translate(216.40,156.90) scale(0.9,1)" font-size="10.0" text-anchor="end">22.5</text>
<text transform="translate(216.40,182.80) scale(0.9,1)" font-size="10.0" text-anchor="end">21.0</text>
<text transform="translate(216.40,208.60) scale(0.9,1)" font-size="10.0" text-anchor="end">19.5</text>
<text transform="translate(246.20,224.70) scale(0.935,1)" font-size="9.8">T=436K</text>
<text transform="translate(216.40,240.70) scale(0.9,1)" font-size="10.0" text-anchor="end">1.65</text>
<text transform="translate(216.40,267.40) scale(0.9,1)" font-size="10.0" text-anchor="end">1.50</text>
<text transform="translate(216.40,294.10) scale(0.9,1)" font-size="10.0" text-anchor="end">1.35</text>
<text transform="translate(216.40,320.80) scale(0.9,1)" font-size="10.0" text-anchor="end">1.20</text>
<text transform="translate(220.65,329.30) scale(0.9,1)" font-size="10.0" text-anchor="middle">0</text>
<text transform="translate(233.48,329.30) scale(0.9,1)" font-size="10.0" text-anchor="middle">5</text>
<text transform="translate(246.32,329.30) scale(0.9,1)" font-size="10.0" text-anchor="middle">10</text>
<text transform="translate(259.15,329.30) scale(0.9,1)" font-size="10.0" text-anchor="middle">15</text>
<text transform="translate(271.98,329.30) scale(0.9,1)" font-size="10.0" text-anchor="middle">20</text>
<text transform="translate(284.82,329.30) scale(0.9,1)" font-size="10.0" text-anchor="middle">25</text>
<text transform="translate(297.65,329.30) scale(0.9,1)" font-size="10.0" text-anchor="middle">30</text>
<text transform="translate(310.48,329.30) scale(0.9,1)" font-size="10.0" text-anchor="middle">35</text>
<text transform="translate(323.32,329.30) scale(0.9,1)" font-size="10.0" text-anchor="middle">40</text>
<text transform="translate(336.15,329.30) scale(0.9,1)" font-size="10.0" text-anchor="middle">45</text>
<text transform="translate(348.99,329.30) scale(0.9,1)" font-size="10.0" text-anchor="middle">50</text>
<text transform="translate(289.90,340.80) scale(0.975,1)" font-size="9.5" text-anchor="middle">Module spacing</text>
<text transform="translate(289.90,350.90) scale(0.99,1)" font-size="9.4" text-anchor="middle">(b)</text>
<text transform="translate(192.00,158.40) rotate(-90) scale(0.975,1)" font-size="9.5" text-anchor="middle">Total output power(W)</text>
<text transform="translate(430.50,19.15) scale(0.935,1)" font-size="9.8">T=864K</text>
<text transform="translate(400.40,23.10) scale(0.9,1)" font-size="10.0" text-anchor="end">75.9</text>
<text transform="translate(400.40,49.40) scale(0.9,1)" font-size="10.0" text-anchor="end">73.6</text>
<text transform="translate(400.40,75.80) scale(0.9,1)" font-size="10.0" text-anchor="end">71.3</text>
<text transform="translate(400.40,102.10) scale(0.9,1)" font-size="10.0" text-anchor="end">69.0</text>
<text transform="translate(430.50,121.40) scale(0.935,1)" font-size="9.8">T=678K</text>
<text transform="translate(400.40,123.20) scale(0.9,1)" font-size="10.0" text-anchor="end">32.3</text>
<text transform="translate(400.40,149.50) scale(0.9,1)" font-size="10.0" text-anchor="end">30.4</text>
<text transform="translate(400.40,175.80) scale(0.9,1)" font-size="10.0" text-anchor="end">28.5</text>
<text transform="translate(400.40,202.10) scale(0.9,1)" font-size="10.0" text-anchor="end">26.6</text>
<text transform="translate(430.50,224.70) scale(0.935,1)" font-size="9.8">T=436K</text>
<text transform="translate(400.40,234.60) scale(0.9,1)" font-size="10.0" text-anchor="end">1.9</text>
<text transform="translate(400.40,256.10) scale(0.9,1)" font-size="10.0" text-anchor="end">1.8</text>
<text transform="translate(400.40,277.60) scale(0.9,1)" font-size="10.0" text-anchor="end">1.7</text>
<text transform="translate(400.40,299.10) scale(0.9,1)" font-size="10.0" text-anchor="end">1.6</text>
<text transform="translate(400.40,320.60) scale(0.9,1)" font-size="10.0" text-anchor="end">1.5</text>
<text transform="translate(404.65,329.30) scale(0.9,1)" font-size="10.0" text-anchor="middle">0</text>
<text transform="translate(417.48,329.30) scale(0.9,1)" font-size="10.0" text-anchor="middle">5</text>
<text transform="translate(430.32,329.30) scale(0.9,1)" font-size="10.0" text-anchor="middle">10</text>
<text transform="translate(443.15,329.30) scale(0.9,1)" font-size="10.0" text-anchor="middle">15</text>
<text transform="translate(455.98,329.30) scale(0.9,1)" font-size="10.0" text-anchor="middle">20</text>
<text transform="translate(468.82,329.30) scale(0.9,1)" font-size="10.0" text-anchor="middle">25</text>
<text transform="translate(481.65,329.30) scale(0.9,1)" font-size="10.0" text-anchor="middle">30</text>
<text transform="translate(494.48,329.30) scale(0.9,1)" font-size="10.0" text-anchor="middle">35</text>
<text transform="translate(507.32,329.30) scale(0.9,1)" font-size="10.0" text-anchor="middle">40</text>
<text transform="translate(520.15,329.30) scale(0.9,1)" font-size="10.0" text-anchor="middle">45</text>
<text transform="translate(532.99,329.30) scale(0.9,1)" font-size="10.0" text-anchor="middle">50</text>
<text transform="translate(473.80,340.80) scale(0.975,1)" font-size="9.5" text-anchor="middle">Module spacing</text>
<text transform="translate(473.80,350.90) scale(0.99,1)" font-size="9.4" text-anchor="middle">(c)</text>
<text transform="translate(377.00,158.40) rotate(-90) scale(0.975,1)" font-size="9.5" text-anchor="middle">Total output power(W)</text>
</g>
</svg>
</body></html>
